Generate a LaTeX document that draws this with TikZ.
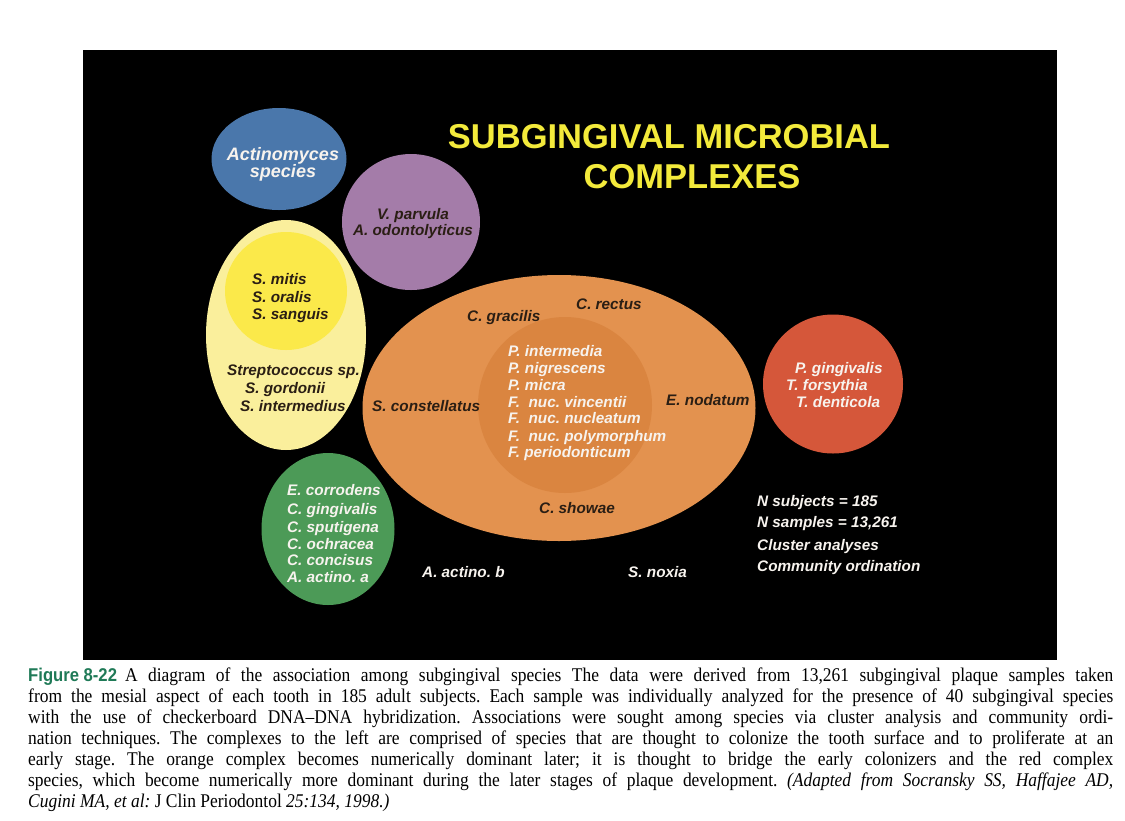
\documentclass[tikz,border=0pt]{standalone}
\usepackage{fontspec}
\setmainfont[FakeStretch=0.9]{Liberation Serif}
\newfontfamily\arialf{Liberation Sans}
\newfontfamily\figf[FakeStretch=0.9]{Liberation Sans}
\usetikzlibrary{shapes.geometric}
\definecolor{cblue}{HTML}{4A77AB}
\definecolor{cpurple}{HTML}{A47CA9}
\definecolor{clyellow}{HTML}{FAEF9C}
\definecolor{cyellow}{HTML}{FBE94A}
\definecolor{corange}{HTML}{E3924F}
\definecolor{cinorange}{HTML}{DA8540}
\definecolor{cred}{HTML}{D5573A}
\definecolor{cgreen}{HTML}{4C9A57}
\definecolor{ctitle}{HTML}{F3EA3B}
\definecolor{darktxt}{HTML}{2A1E14}
\definecolor{whitetxt}{HTML}{F7F3EE}
\definecolor{figgreen}{HTML}{1F7A57}
\frenchspacing
\begin{document}
\begin{tikzpicture}[x=1pt,y=-1pt,
  blob/.style={ellipse, inner sep=0pt, draw=none},
  dk/.style={font=\arialf\bfseries\itshape\fontsize{15.3}{17}\selectfont, text=darktxt, inner sep=0pt, anchor=base west},
  wt/.style={dk, text=whitetxt},
  ttl/.style={font=\arialf\bfseries\fontsize{34.5}{40}\selectfont, text=ctitle, inner sep=0pt, anchor=base},
  capl/.style={font=\fontsize{19.4}{21}\selectfont, inner sep=0pt, anchor=base west, text=black}]
\useasboundingbox (0,0) rectangle (1125,820);
\fill[white] (0,0) rectangle (1125,820);
\fill[black] (83,50) rectangle (1057,660);
% blobs
\node[blob, fill=cblue, minimum width=135pt, minimum height=102pt] (actin) at (279,159) {};
\node[blob, fill=cpurple, minimum width=138pt, minimum height=136pt] (purple) at (411,222) {};
\node[blob, fill=clyellow, minimum width=160pt, minimum height=230pt] (lyel) at (286,335) {};
\node[blob, fill=cyellow, minimum width=122pt, minimum height=118pt] (yel) at (286,291) {};
\node[blob, fill=corange, minimum width=393pt, minimum height=266pt] (orange) at (559,408) {};
\node[blob, fill=cinorange, minimum width=174pt, minimum height=176pt] (inorange) at (565,405) {};
\node[blob, fill=cred, minimum width=140pt, minimum height=139pt] (red) at (833,384) {};
\node[blob, fill=cgreen, minimum width=133pt, minimum height=152pt] (green) at (328,529) {};
% title
\node[ttl] (t1) at (669,148) {SUBGINGIVAL MICROBIAL};
\node[ttl] (t2) at (692,188) {COMPLEXES};
% blue
\node[wt, anchor=base, font=\arialf\bfseries\itshape\fontsize{18}{20}\selectfont] (b1) at (283,160) {Actinomyces};
\node[wt, anchor=base, font=\arialf\bfseries\itshape\fontsize{18}{20}\selectfont] (b2) at (283,177) {species};
% purple
\node[dk, anchor=base] (p1) at (413,219) {V. parvula};
\node[dk, anchor=base] (p2) at (413,235) {A. odontolyticus};
% yellow
\node[dk] (y1) at (252,284) {S. mitis};
\node[dk] (y2) at (252,302) {S. oralis};
\node[dk] (y3) at (252,319) {S. sanguis};
\node[dk] (y4) at (227,375) {Streptococcus sp.};
\node[dk] (y5) at (245,393) {S. gordonii};
\node[dk] (y6) at (240,411) {S. intermedius};
% orange
\node[dk] (o1) at (467,321) {C. gracilis};
\node[dk] (o2) at (576,309) {C. rectus};
\node[dk] (o3) at (372,411) {S. constellatus};
\node[dk] (o4) at (666,405) {E. nodatum};
\node[dk] (o5) at (539,513) {C. showae};
\node[wt] (i1) at (508,356) {P. intermedia};
\node[wt] (i2) at (508,373) {P. nigrescens};
\node[wt] (i3) at (508,390) {P. micra};
\node[wt] (i4) at (508,407) {F.~ nuc. vincentii};
\node[wt] (i5) at (508,423) {F.~ nuc. nucleatum};
\node[wt] (i6) at (508,441) {F.~ nuc. polymorphum};
\node[wt] (i7) at (508,457) {F. periodonticum};
% red
\node[wt] (r1) at (795,373) {P. gingivalis};
\node[wt] (r2) at (786,390) {T. forsythia};
\node[wt] (r3) at (796,407) {T. denticola};
% green
\node[wt] (g1) at (287,495) {E. corrodens};
\node[wt] (g2) at (287,514) {C. gingivalis};
\node[wt] (g3) at (287,532) {C. sputigena};
\node[wt] (g4) at (287,549) {C. ochracea};
\node[wt] (g5) at (287,565) {C. concisus};
\node[wt] (g6) at (287,582) {A. actino. a};
% free
\node[wt] (f1) at (422,577) {A. actino. b};
\node[wt] (f2) at (628,577) {S. noxia};
% stats
\node[wt] (s1) at (757,506) {N subjects = 185};
\node[wt] (s2) at (757,527) {N samples = 13,261};
\node[wt] (s3) at (757,550) {Cluster analyses};
\node[wt] (s4) at (757,571) {Community ordination};
% caption
\node[capl] (c1) at (28,681) {\hbox to 1085pt{\mbox{\figf\bfseries\fontsize{18.5}{20}\selectfont\color{figgreen}Figure 8-22}\hspace{8pt}A diagram of the association among subgingival species The data were derived from 13,261 subgingival plaque samples taken}};
\node[capl] (c2) at (28,702) {\hbox to 1085pt{from the mesial aspect of each tooth in 185 adult subjects. Each sample was individually analyzed for the presence of 40 subgingival species}};
\node[capl] (c3) at (28,723) {\hbox to 1085pt{with the use of checkerboard DNA--DNA hybridization. Associations were sought among species via cluster analysis and community ordi-}};
\node[capl] (c4) at (28,744) {\hbox to 1085pt{nation techniques. The complexes to the left are comprised of species that are thought to colonize the tooth surface and to proliferate at an}};
\node[capl] (c5) at (28,765) {\hbox to 1085pt{early stage. The orange complex becomes numerically dominant later; it is thought to bridge the early colonizers and the red complex}};
\node[capl] (c6) at (28,786) {\hbox to 1085pt{species, which become numerically more dominant during the later stages of plaque development. \textit{(Adapted from Socransky SS, Haffajee AD,}}};
\node[capl] (c7) at (28,807) {\textit{Cugini MA, et al:} J Clin Periodontol \textit{25:134, 1998.)}};
\end{tikzpicture}
\end{document}
